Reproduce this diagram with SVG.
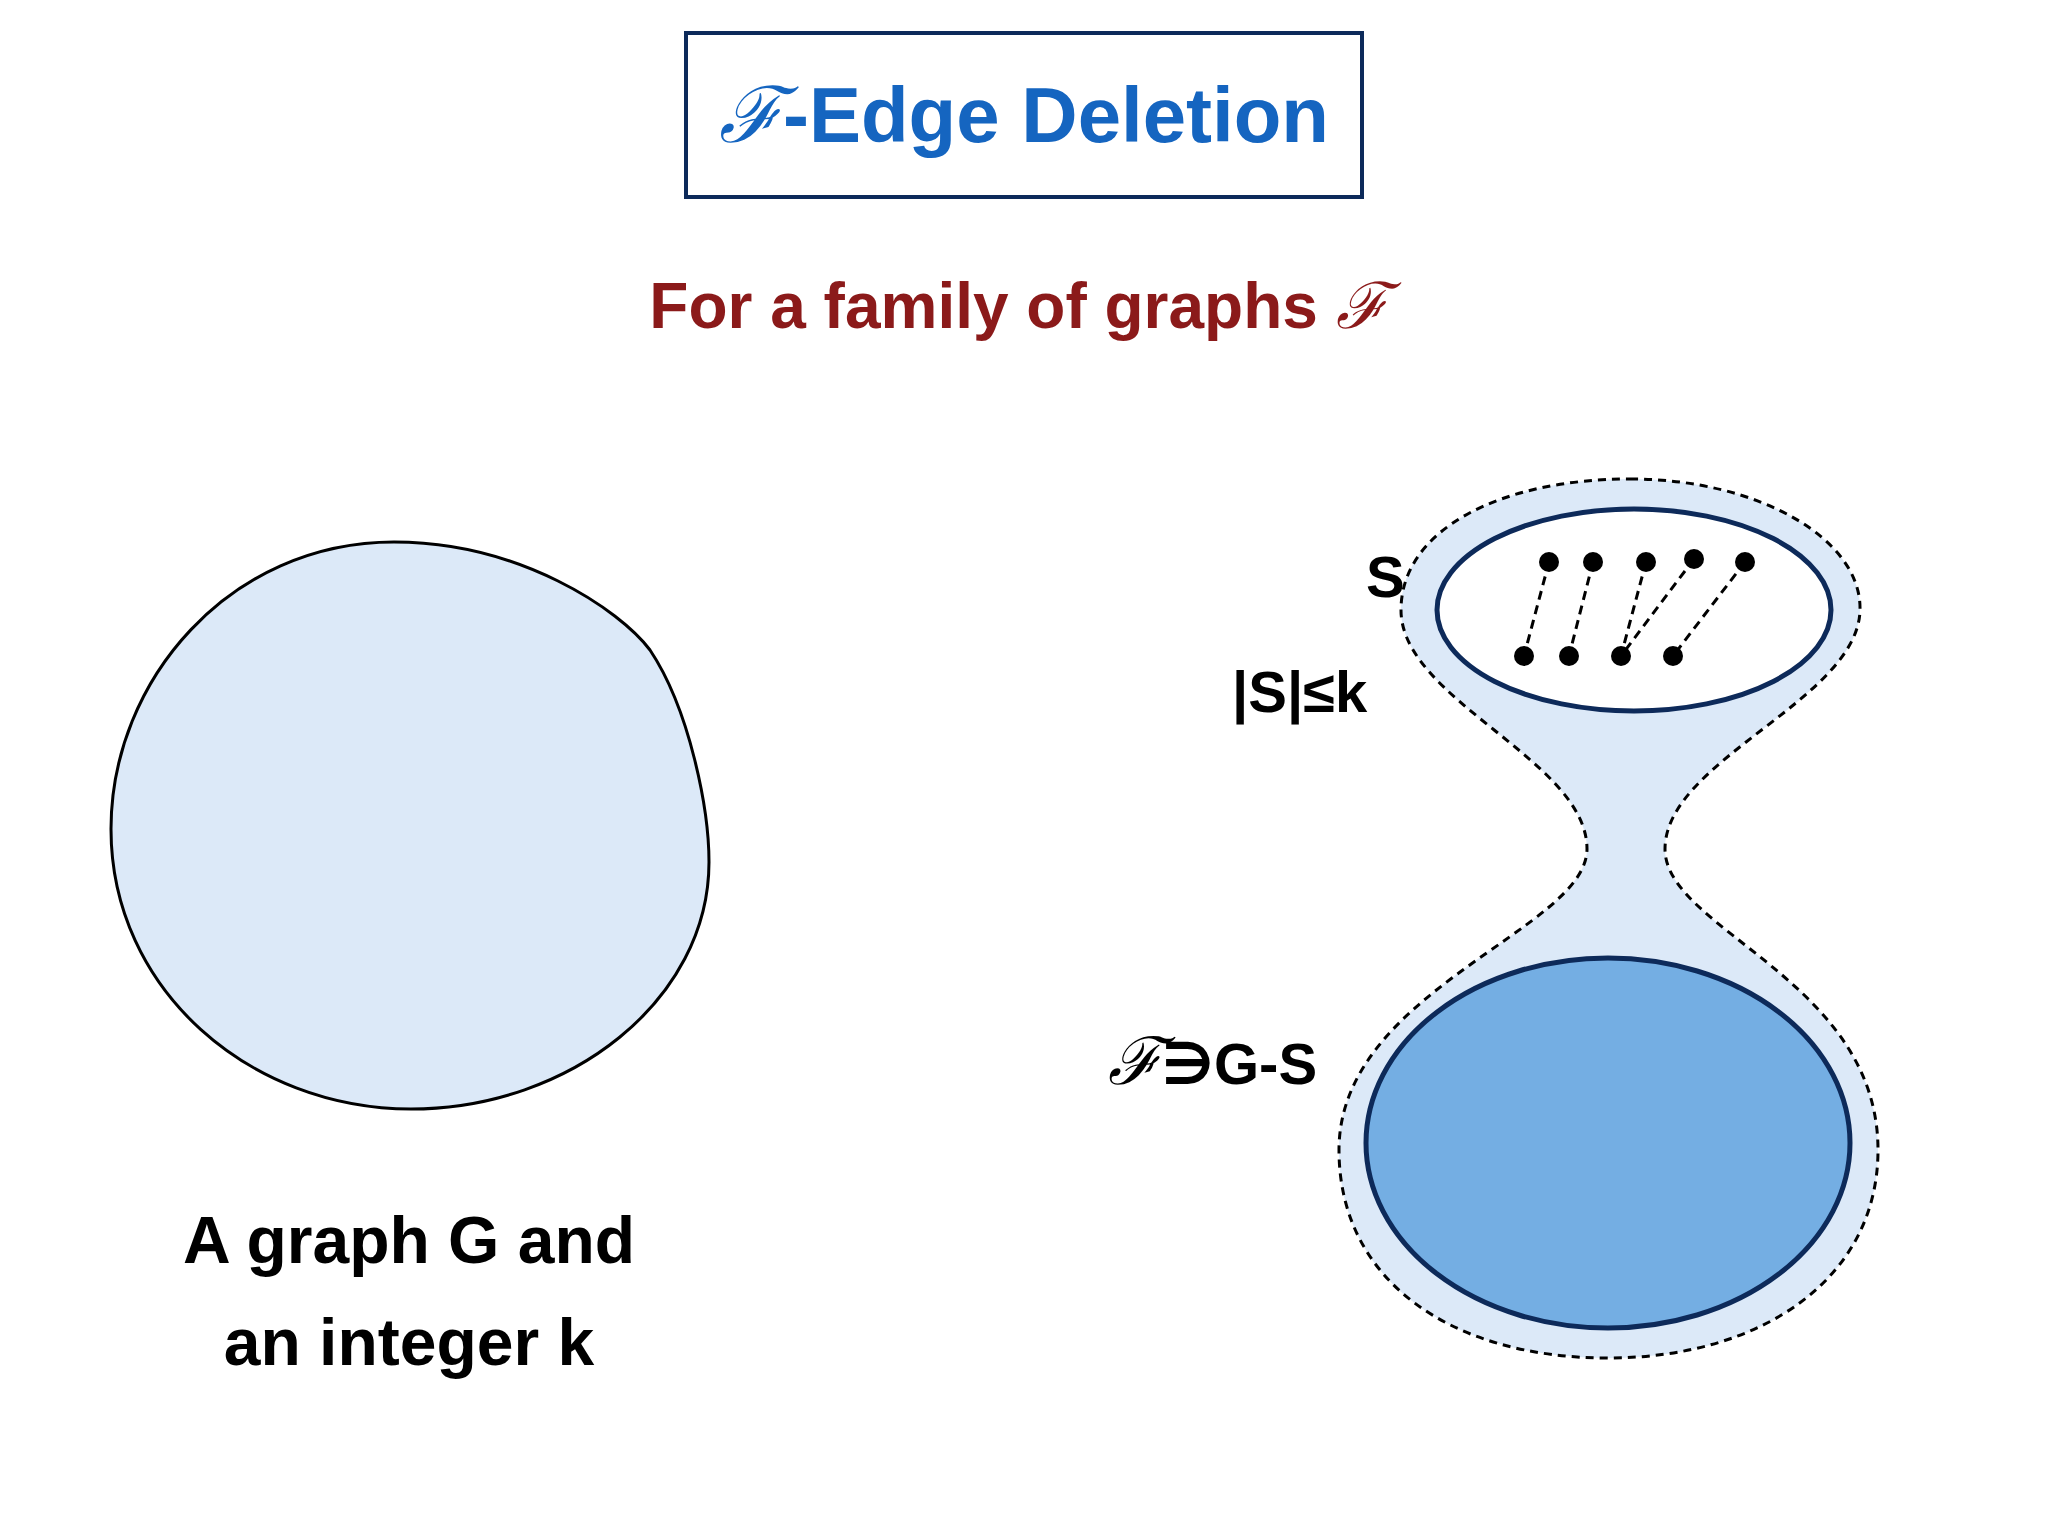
<svg xmlns="http://www.w3.org/2000/svg" width="2048" height="1536" viewBox="0 0 2048 1536">
<style>
.t{font-family:"Liberation Sans","DejaVu Sans",sans-serif;font-weight:bold}
.sc{font-family:"DejaVu Serif",serif;font-style:italic;font-weight:normal}
.dot{fill:#000}
.e{stroke:#000;stroke-width:3;stroke-dasharray:9 6}
</style>
<rect width="2048" height="1536" fill="#fff"/>
<g id="title">
<rect x="686" y="33" width="676" height="164" fill="#fff" stroke="#0d2a5a" stroke-width="4"/>
<text x="1024" y="142" text-anchor="middle" class="t" font-size="78" fill="#1565c0"><tspan class="sc">ℱ</tspan>-Edge Deletion</text>
</g>
<g id="subtitle">
<text x="1019" y="328" text-anchor="middle" class="t" font-size="64" fill="#8b1a1a">For a family of graphs <tspan class="sc">ℱ</tspan></text>
</g>
<g id="graphG">
<path d="M394,542 C520,542 620,610 650,650 C690,710 709,810 709,862 C709,1000 570,1109 411,1109 C250,1109 111,990 111,829 C111,680 230,542 394,542 Z" fill="#dce9f8" stroke="#000" stroke-width="3"/>
<text x="409" y="1263" text-anchor="middle" class="t" font-size="66" fill="#000">A graph G and</text>
<text x="409" y="1365" text-anchor="middle" class="t" font-size="66" fill="#000">an integer k</text>
</g>
<g id="halo">
<path d="M1630,479 C1760,479 1862,540 1860,610 C1858,700 1665,760 1665,849 C1665,930 1878,980 1878,1150 C1878,1280 1760,1358 1608,1358 C1450,1358 1339,1280 1339,1150 C1339,990 1587,930 1587,849 C1587,760 1401,700 1401,610 C1401,530 1500,479 1630,479 Z" fill="#dce9f8" stroke="#000" stroke-width="3" stroke-dasharray="8 6"/>
</g>
<g id="GminusS">
<ellipse cx="1608" cy="1143" rx="242" ry="185" fill="#74aee3" stroke="#0d2a5a" stroke-width="5"/>
</g>
<g id="S">
<ellipse cx="1634" cy="610" rx="197" ry="101" fill="#fff" stroke="#0d2a5a" stroke-width="5"/>
</g>
<g id="edges">
<line class="e" x1="1549" y1="562" x2="1524" y2="656"/>
<line class="e" x1="1593" y1="562" x2="1569" y2="656"/>
<line class="e" x1="1646" y1="562" x2="1621" y2="656"/>
<line class="e" x1="1694" y1="559" x2="1621" y2="656"/>
<line class="e" x1="1745" y1="562" x2="1673" y2="656"/>
</g>
<g id="dots">
<circle class="dot" cx="1549" cy="562" r="10"/><circle class="dot" cx="1593" cy="562" r="10"/><circle class="dot" cx="1646" cy="562" r="10"/><circle class="dot" cx="1694" cy="559" r="10"/><circle class="dot" cx="1745" cy="562" r="10"/>
<circle class="dot" cx="1524" cy="656" r="10"/><circle class="dot" cx="1569" cy="656" r="10"/><circle class="dot" cx="1621" cy="656" r="10"/><circle class="dot" cx="1673" cy="656" r="10"/>
</g>
<g id="labels">
<text x="1366" y="597" class="t" font-size="58" fill="#000">S</text>
<text x="1232" y="712" class="t" font-size="58" fill="#000">|S|≤k</text>
<text x="1108" y="1084" class="t" font-size="58" fill="#000"><tspan class="sc" font-size="66">ℱ</tspan>∋G-S</text>
</g>
</svg>
